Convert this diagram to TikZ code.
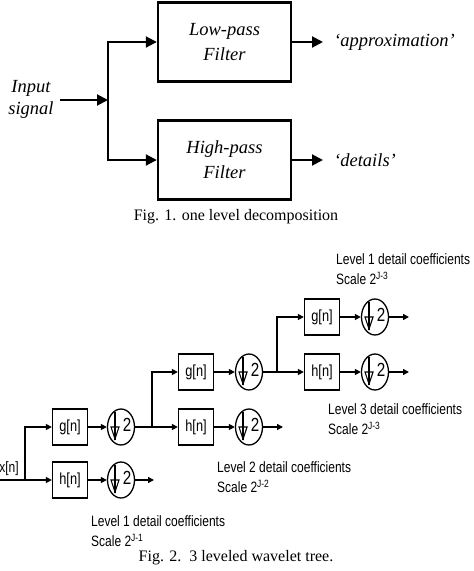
\documentclass[tikz,border=0pt]{standalone}
\usepackage{fontspec}
\setmainfont{Liberation Serif}
\newfontfamily\narrowsans[FakeStretch=0.8]{Liberation Sans}
\usetikzlibrary{arrows.meta,shapes.geometric}
\newcommand\dsamp[3]{%
  \node[dsnode] (#1) at (#2,#3) {};
  \draw[dsline] ([shift={(-6,-15)}]#1.center) -- ([shift={(-6,13)}]#1.center);
  \draw[dsline] ([shift={(-10,0)}]#1.center) -- ([shift={(-2,0)}]#1.center) -- ([shift={(-6,12)}]#1.center) -- cycle;
  \node[twofont] (#1-two) at ([shift={(6,-2)}]#1.center) {2};
}
\begin{document}
\begin{tikzpicture}[x=1pt,y=-1pt,
  bigbox/.style={draw, line width=2.4pt, minimum width=133pt, minimum height=79pt, inner sep=0pt, align=center, font=\fontsize{18.5}{25}\selectfont\itshape},
  itxt/.style={inner sep=0pt, align=center, font=\fontsize{18.5}{22}\selectfont\itshape},
  bigarrow/.style={line width=2pt, -{Triangle[length=11pt,width=11pt]}},
  bigline/.style={line width=2pt},
  caption/.style={inner sep=0pt, font=\fontsize{16}{18}\selectfont},
  filt/.style={draw, line width=1.3pt, minimum width=35pt, minimum height=36pt, inner sep=0pt, font=\narrowsans\fontsize{16}{16}\selectfont},
  dsnode/.style={draw, ellipse, line width=1.3pt, minimum width=27pt, minimum height=36pt, inner sep=0pt},
  dsline/.style={line width=1.1pt},
  twofont/.style={inner sep=0pt, font=\narrowsans\fontsize{19}{19}\selectfont},
  sarrow/.style={line width=1.8pt, -{Triangle[length=6pt,width=6pt]}},
  sline/.style={line width=1.8pt},
  lbl/.style={align=left, inner sep=0pt, font=\narrowsans\fontsize{15}{20}\selectfont}
]
\useasboundingbox (0,0) rectangle (474,571);

% ---------- Fig. 1 ----------
\node[bigbox] (low) at (224.5,42) {Low-pass\\Filter};
\node[bigbox] (high) at (224.5,160) {High-pass\\Filter};
\node[itxt] (inp) at (31,99) {Input\\signal};
\coordinate (j0) at (108,100);
\draw[bigarrow] ([xshift=6pt]inp.east |- j0) -- (j0);
\draw[bigline] (j0) |- ([xshift=-12pt]low.west);
\draw[bigarrow] ([xshift=-12pt]low.west) -- (low.west);
\draw[bigline] (j0) |- ([xshift=-12pt]high.west);
\draw[bigarrow] ([xshift=-12pt]high.west) -- (high.west);
\node[itxt, anchor=west] (approx) at (334,42) {`approximation'};
\node[itxt, anchor=west] (det) at (334,160) {`details'};
\draw[bigarrow, shorten >=11pt] (low.east) -- (approx.west);
\draw[bigarrow, shorten >=11pt] (high.east) -- (det.west);
\node[caption] (cap1) at (236,217) {Fig. 1. one level decomposition};

% ---------- Fig. 2 ----------
\node[lbl] (xin) at (9,469) {x[n]};
\coordinate (xstart) at (0,480);
\coordinate (j1) at (25,480);

\node[filt] (g1) at (70,427) {g[n]};
\node[filt] (h1) at (70,480) {h[n]};
\dsamp{d1g}{121}{427}
\dsamp{d1h}{121}{480}
\coordinate (o1) at (154,480);

\node[filt] (g2) at (196,372) {g[n]};
\node[filt] (h2) at (196,427) {h[n]};
\dsamp{d2g}{249}{372}
\dsamp{d2h}{249}{427}
\coordinate (j2) at (152,427);
\coordinate (o2) at (283,427);

\node[filt] (g3) at (322,317) {g[n]};
\node[filt] (h3) at (322,372) {h[n]};
\dsamp{d3g}{375}{317}
\dsamp{d3h}{375}{372}
\coordinate (j3) at (277,372);
\coordinate (o3g) at (409,317);
\coordinate (o3h) at (409,372);

\draw[sarrow] (xstart) -- (h1.west);
\draw[sline] (j1) |- ([xshift=-8pt]g1.west);
\draw[sarrow] ([xshift=-8pt]g1.west) -- (g1.west);
\draw[sarrow] (g1.east) -- (d1g.west);
\draw[sarrow] (h1.east) -- (d1h.west);
\draw[sarrow] (d1h.east) -- (o1);

\draw[sline] (d1g.east) -- (j2);
\draw[sline] (j2) |- ([xshift=-8pt]g2.west);
\draw[sarrow] ([xshift=-8pt]g2.west) -- (g2.west);
\draw[sarrow] (j2) -- (h2.west);
\draw[sarrow] (g2.east) -- (d2g.west);
\draw[sarrow] (h2.east) -- (d2h.west);
\draw[sarrow] (d2h.east) -- (o2);

\draw[sline] (d2g.east) -- (j3);
\draw[sline] (j3) |- ([xshift=-8pt]g3.west);
\draw[sarrow] ([xshift=-8pt]g3.west) -- (g3.west);
\draw[sarrow] (j3) -- (h3.west);
\draw[sarrow] (g3.east) -- (d3g.west);
\draw[sarrow] (h3.east) -- (d3h.west);
\draw[sarrow] (d3g.east) -- (o3g);
\draw[sarrow] (d3h.east) -- (o3h);

\node[lbl, anchor=west] (lab1t) at (336,269) {Level 1 detail coefficients\\Scale 2\textsuperscript{J-3}};
\node[lbl, anchor=west] (lab3) at (328,419) {Level 3 detail coefficients\\Scale 2\textsuperscript{J-3}};
\node[lbl, anchor=west] (lab2) at (217,477) {Level 2 detail coefficients\\Scale 2\textsuperscript{J-2}};
\node[lbl, anchor=west] (lab1) at (91,531) {Level 1 detail coefficients\\Scale 2\textsuperscript{J-1}};
\node[caption] (cap2) at (236,558) {Fig. 2.\ \ 3 leveled wavelet tree.};
\end{tikzpicture}
\end{document}
